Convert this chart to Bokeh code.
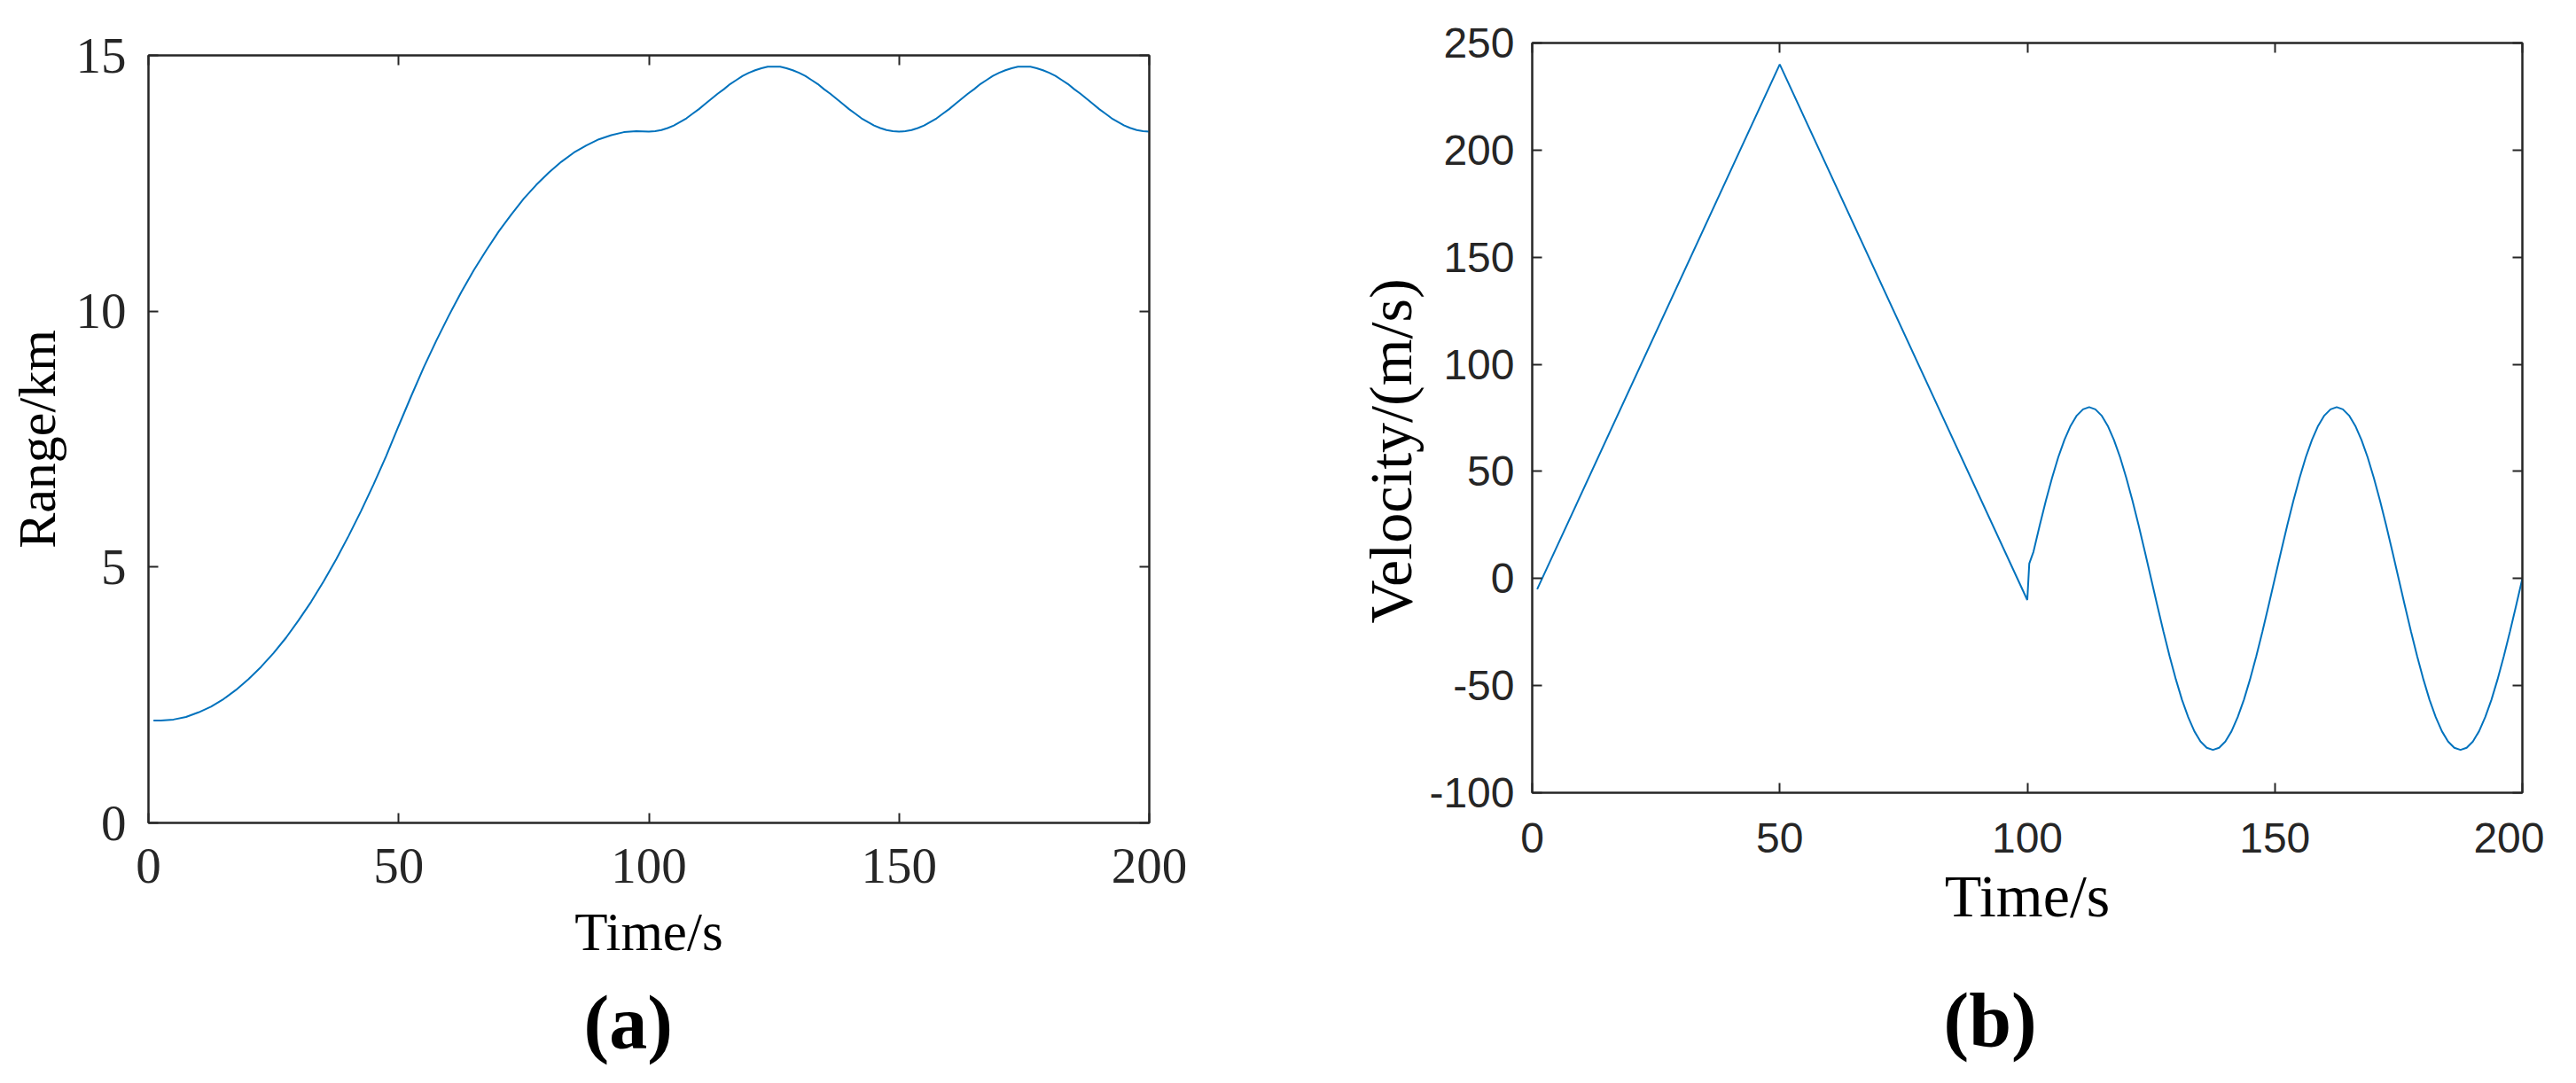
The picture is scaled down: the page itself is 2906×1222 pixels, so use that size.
from bokeh.plotting import figure
from bokeh.models import Range1d, FixedTicker, LinearAxis, Title, CustomJSTickFormatter, BasicTickFormatter
from bokeh.embed import file_html
from bokeh.resources import INLINE

# ---------------- data ----------------
rise_t = [1, 2.5, 5, 7.5, 10, 12.5, 15, 17.5, 20, 22.5, 25, 27.5, 30, 32.5, 35, 37.5, 40,
          42.5, 45, 47.5, 50, 52.5, 55, 57.5, 60, 62.5, 65, 67.5, 70, 72.5, 75, 77.5, 80,
          82.5, 85, 87.5, 90, 92.5, 95, 97.5, 100]
range_rise_km = [2.00, 2.00, 2.02, 2.07, 2.16, 2.27, 2.42, 2.60, 2.81, 3.05, 3.32, 3.62, 3.96,
                 4.32, 4.72, 5.15, 5.61, 6.10, 6.62, 7.17, 7.76, 8.34, 8.90, 9.42, 9.91, 10.37,
                 10.80, 11.19, 11.56, 11.89, 12.20, 12.47, 12.71, 12.92, 13.10, 13.24, 13.36,
                 13.44, 13.50, 13.52, 13.51]
osc_t = [101.25, 102.5, 103.75, 105, 106.25, 107.5, 108.75, 110, 111.25, 112.5,
         113.75, 115, 116.25, 117.5, 118.75, 120, 121.25, 122.5, 123.75, 125,
         126.25, 127.5, 128.75, 130, 131.25, 132.5, 133.75, 135, 136.25, 137.5,
         138.75, 140, 141.25, 142.5, 143.75, 145, 146.25, 147.5, 148.75, 150,
         151.25, 152.5, 153.75, 155, 156.25, 157.5, 158.75, 160, 161.25, 162.5,
         163.75, 165, 166.25, 167.5, 168.75, 170, 171.25, 172.5, 173.75, 175,
         176.25, 177.5, 178.75, 180, 181.25, 182.5, 183.75, 185, 186.25, 187.5,
         188.75, 190, 191.25, 192.5, 193.75, 195, 196.25, 197.5, 198.75, 200]
range_osc_km = [13.52, 13.54, 13.58, 13.63, 13.70, 13.77, 13.86, 13.95, 14.05, 14.15,
                14.25, 14.34, 14.44, 14.52, 14.60, 14.66, 14.71, 14.75, 14.78, 14.78,
                14.78, 14.75, 14.71, 14.66, 14.60, 14.52, 14.44, 14.34, 14.25, 14.15,
                14.05, 13.95, 13.86, 13.77, 13.70, 13.63, 13.58, 13.54, 13.52, 13.51,
                13.52, 13.54, 13.58, 13.63, 13.70, 13.77, 13.86, 13.95, 14.05, 14.15,
                14.25, 14.34, 14.44, 14.52, 14.60, 14.66, 14.71, 14.75, 14.78, 14.78,
                14.78, 14.75, 14.71, 14.66, 14.60, 14.52, 14.44, 14.34, 14.25, 14.15,
                14.05, 13.95, 13.86, 13.77, 13.70, 13.63, 13.58, 13.54, 13.52, 13.51]
vel_head_t = [1, 50, 100, 100.4]
vel_head_ms = [-5, 240, -10, 7]
vel_osc_ms = [12.5, 24.7, 36.3, 47.0, 56.6, 64.7, 71.3, 76.1, 79.0, 80.0,
              79.0, 76.1, 71.3, 64.7, 56.6, 47.0, 36.3, 24.7, 12.5, 0.0,
              -12.5, -24.7, -36.3, -47.0, -56.6, -64.7, -71.3, -76.1, -79.0, -80.0,
              -79.0, -76.1, -71.3, -64.7, -56.6, -47.0, -36.3, -24.7, -12.5, 0.0,
              12.5, 24.7, 36.3, 47.0, 56.6, 64.7, 71.3, 76.1, 79.0, 80.0,
              79.0, 76.1, 71.3, 64.7, 56.6, 47.0, 36.3, 24.7, 12.5, 0.0,
              -12.5, -24.7, -36.3, -47.0, -56.6, -64.7, -71.3, -76.1, -79.0, -80.0,
              -79.0, -76.1, -71.3, -64.7, -56.6, -47.0, -36.3, -24.7, -12.5, 0.0]

time_ticks = [0, 50, 100, 150, 200]
range_ticks = [0, 5, 10, 15]
vel_ticks = [-100, -50, 0, 50, 100, 150, 200, 250]

x_label = "Time/s"
range_label = "Range/km"
vel_label = "Velocity/(m/s)"
caption_a = "(a)"
caption_b = "(b)"

# ---------------- styling ----------------
SERIF = "Liberation Serif"
SANS = "Liberation Sans"
LINE = "#0072BD"
AX = "#262626"


def make_panel(bl, bt, br, fw, fh, xr, yr, yticks, tick_font, tick_size, xstand, ystand):
    p = figure(frame_width=fw, frame_height=fh, output_backend="svg", toolbar_location=None,
               x_range=Range1d(*xr), y_range=Range1d(*yr))
    p.min_border_left = bl
    p.min_border_top = bt
    p.min_border_right = br
    p.min_border_bottom = 0
    p.background_fill_color = "white"
    p.border_fill_color = "white"
    p.outline_line_color = AX
    p.outline_line_width = 2
    p.xgrid.visible = False
    p.ygrid.visible = False
    bottom = p.below[0]
    left = p.left[0]
    bottom.ticker = FixedTicker(ticks=time_ticks)
    left.ticker = FixedTicker(ticks=yticks)
    bottom.formatter = BasicTickFormatter()
    left.formatter = BasicTickFormatter()
    left.major_label_overrides = {t: str(t) for t in yticks if t < 0}
    top = LinearAxis(ticker=FixedTicker(ticks=time_ticks),
                     formatter=CustomJSTickFormatter(code="return ''"))
    right = LinearAxis(ticker=FixedTicker(ticks=yticks),
                       formatter=CustomJSTickFormatter(code="return ''"))
    p.add_layout(top, "above")
    p.add_layout(right, "right")
    for ax in [bottom, left, top, right]:
        ax.axis_line_color = AX
        ax.axis_line_width = 2
        ax.major_tick_line_color = AX
        ax.major_tick_line_width = 2
        ax.major_tick_in = 11
        ax.major_tick_out = 0
        ax.minor_tick_line_color = None
        ax.major_label_text_font = tick_font
        ax.major_label_text_color = AX
    for ax in [top, right]:
        ax.major_label_text_font_size = "1px"
        ax.major_label_standoff = 0
    bottom.major_label_text_font_size = tick_size
    left.major_label_text_font_size = tick_size
    bottom.major_label_standoff = xstand
    left.major_label_standoff = ystand
    for ax in [bottom, left]:
        ax.axis_label_text_font = SERIF
        ax.axis_label_text_font_style = "normal"
        ax.axis_label_text_color = "black"
    return p, bottom, left


def caption(p, text, left_offset, standoff):
    p.add_layout(Title(text=text, align="left", offset=left_offset, standoff=standoff,
                       text_font=SERIF, text_font_size="86px", text_font_style="bold",
                       text_color="black"), "below")


XR = (0, 200)

# ---------------- panel (a) ----------------
pa, a_bottom, a_left = make_panel(167, 62, 100, 1129, 866, XR, (0, 15), range_ticks,
                                  SERIF, "57px", 29, 25)
pa.line(rise_t + osc_t, range_rise_km + range_osc_km, line_color=LINE, line_width=2)
a_bottom.axis_label = x_label
a_bottom.axis_label_text_font_size = "61px"
a_bottom.axis_label_standoff = 19
a_left.axis_label = range_label
a_left.axis_label_text_font_size = "60px"
a_left.axis_label_standoff = 8
caption(pa, caption_a, 491, 33)

# ---------------- panel (b) ----------------
# panel (a) is 167 + 1129 + 100 = 1396 px wide; frame (b) starts at x = 1728
pb, b_bottom, b_left = make_panel(1728 - 1396, 48, 25, 1117, 846, XR, (-100, 250), vel_ticks,
                                  SANS, "48px", 34, 20)
pb.line(vel_head_t + osc_t, vel_head_ms + vel_osc_ms, line_color=LINE, line_width=2)
b_bottom.axis_label = x_label
b_bottom.axis_label_text_font_size = "68px"
b_bottom.axis_label_standoff = 8
# y label of (b) sits a little below the frame centre in the reference
pb.add_layout(Title(text=vel_label, align="left", offset=191, standoff=5,
                    text_font=SERIF, text_font_size="68px", text_font_style="normal",
                    text_color="black"), "left")
caption(pb, caption_b, 464, 99)

PAGE = """
{% block postamble %}
<style>
  html, body { margin: 0 !important; padding: 0 !important; }
  body { display: flex !important; flex-direction: row !important;
         align-items: flex-start !important; }
</style>
{% endblock %}
"""

open("out.html", "w").write(file_html([pa, pb], INLINE, template=PAGE))
